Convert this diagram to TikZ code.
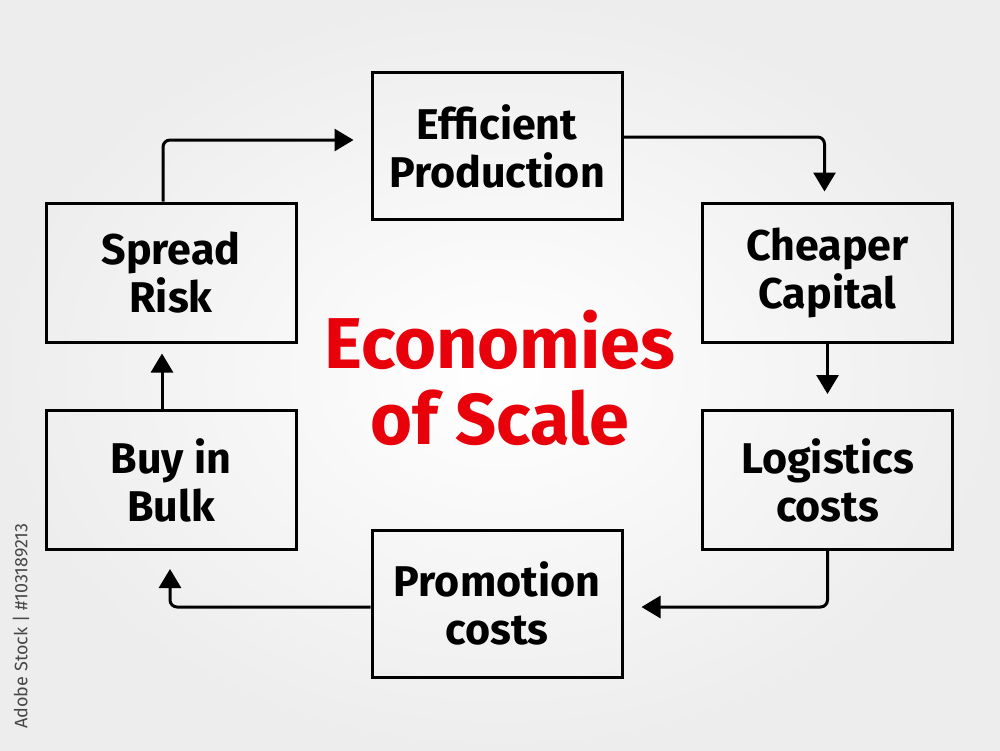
\documentclass[tikz,border=0pt]{standalone}
\usepackage{fontspec}
\setmainfont{Fira Sans}
\usetikzlibrary{arrows.meta}
\definecolor{titlered}{HTML}{E8000B}
\begin{document}
\begin{tikzpicture}[x=1pt,y=-1pt,
  box/.style={draw=black, line width=3pt, minimum width=250pt, minimum height=139pt,
    inner sep=0pt, align=center, font=\fontsize{43}{48}\selectfont\bfseries},
  conn/.style={line width=3pt, rounded corners=7pt, -{Triangle[length=19pt,width=22pt]}}]
\useasboundingbox (0,0) rectangle (1000,750);
\shade[inner color=white, outer color=black!7] (0,0) rectangle (1000,750);

\node[box, minimum height=147pt] (EP) at (497,146) {Efficient\\Production};
\node[box] (SR) at (171,272.5) {Spread\\Risk};
\node[box] (CC) at (827.5,272.5) {Cheaper\\Capital};
\node[box] (BB) at (171,480) {Buy in\\Bulk};
\node[box] (LC) at (827.5,480) {Logistics\\costs};
\node[box, minimum height=147pt] (PC) at (497,603.5) {Promotion\\costs};

\node[text=titlered, align=center, font=\fontsize{72}{76}\selectfont\bfseries] (T) at (500,378) {Economies\\of Scale};

\draw[conn] ([xshift=-8pt]SR.north) |- ([xshift=-17pt,yshift=6pt]EP.west);
\draw[conn] ([yshift=9pt]EP.east) -| ([xshift=-3pt,yshift=10pt]CC.north);
\draw[conn] (CC.south) -- ([yshift=15pt]LC.north);
\draw[conn] (LC.south) |- ([xshift=18pt,yshift=-3.5pt]PC.east);
\draw[conn] ([yshift=-3.5pt]PC.west) -| ([xshift=-1pt,yshift=-18pt]BB.south);
\draw[conn] ([xshift=-9pt]BB.north) -- ([xshift=-9pt,yshift=-10pt]SR.south);

\node[rotate=90, text=black!72, font=\fontsize{18}{18}\selectfont] (W) at (21,626) {Adobe Stock | \#103189213};
\end{tikzpicture}
\end{document}
